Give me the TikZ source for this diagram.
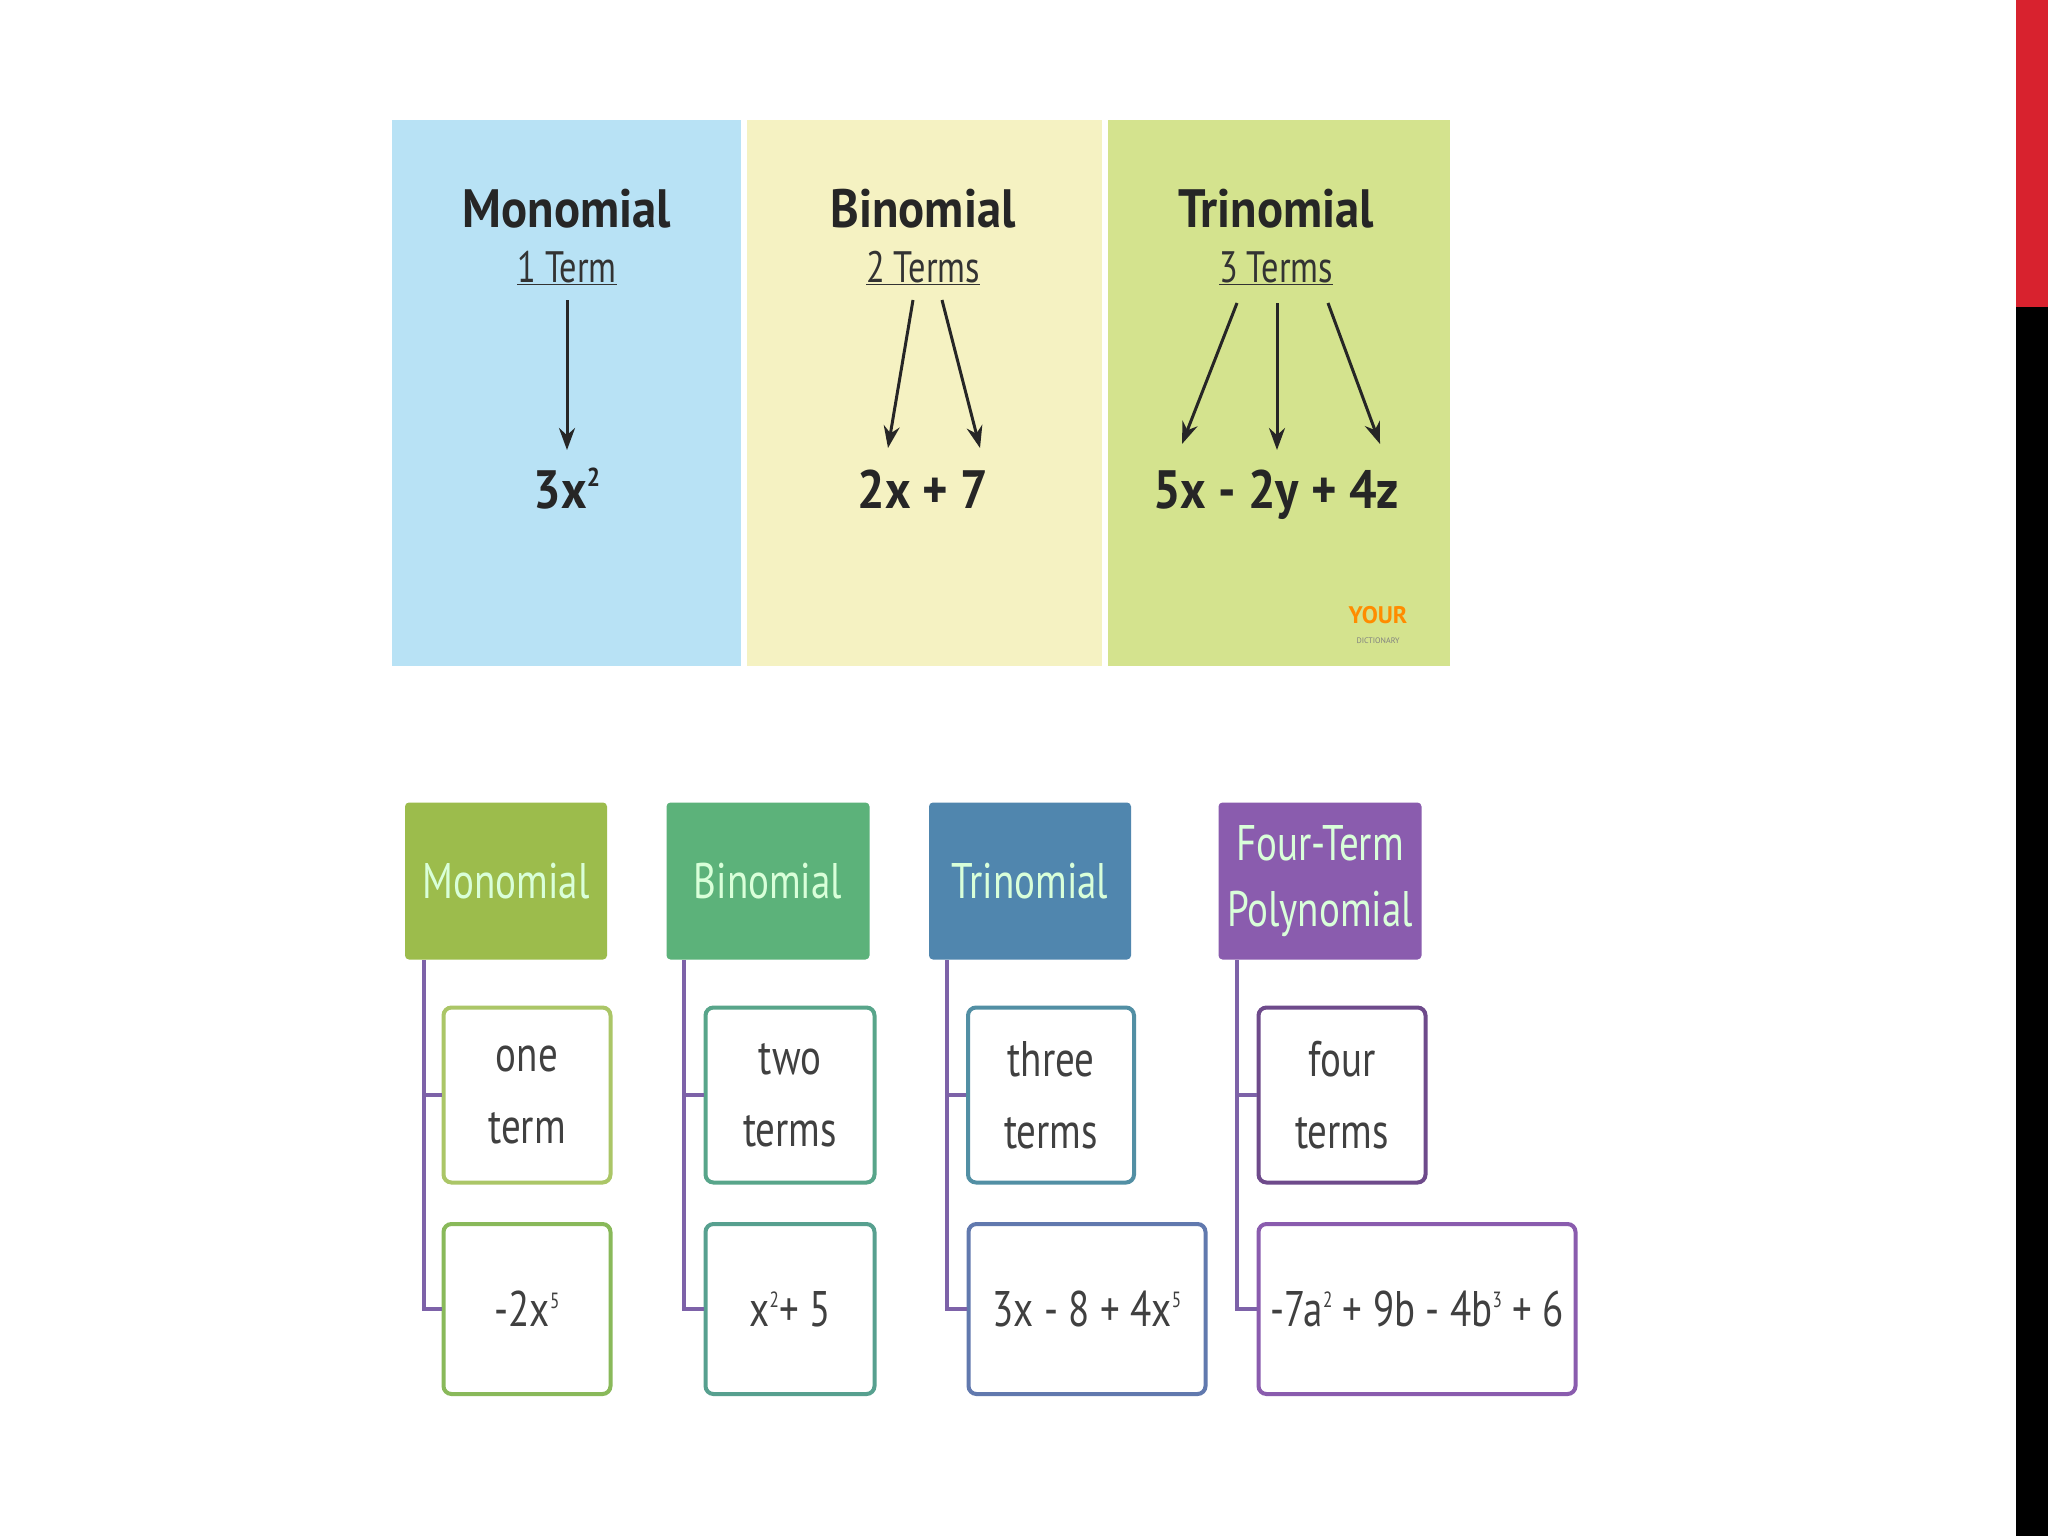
\documentclass[tikz,border=0pt]{standalone}
\usepackage{fontspec}
\setmainfont{PT Sans}
\newfontfamily\cond[FakeStretch=0.78]{PT Sans}
\newfontfamily\condb[FakeStretch=0.9]{PT Sans Bold}
\usetikzlibrary{arrows.meta}
\newcommand{\sps}[1]{\raisebox{0.75ex}{\fontsize{22}{22}\selectfont #1}}
\begin{document}
\begin{tikzpicture}[x=1pt,y=-1pt,
  ttl/.style={font=\condb\fontsize{54}{58}\selectfont, text=black!85},
  sub/.style={font=\cond\fontsize{44}{48}\selectfont, text=black!80},
  frm/.style={font=\condb\fontsize{54}{58}\selectfont, text=black!85, anchor=base},
  arr/.style={-{Stealth[length=22pt,width=16pt]}, line width=3pt, black!85},
  hdr/.style={rounded corners=4pt, text=white!85!green, font=\cond\fontsize{50}{66}\selectfont, align=center, inner sep=0pt},
  kid/.style={draw, line width=4pt, rounded corners=8pt, fill=white, text=black!75, font=\cond\fontsize{50}{72}\selectfont, align=center, inner sep=0pt},
  conn/.style={draw=lpur, line width=4pt}]
\definecolor{pblue}{HTML}{B8E2F5}
\definecolor{pyel}{HTML}{F5F2C2}
\definecolor{pgrn}{HTML}{D4E38E}
\definecolor{hmono}{HTML}{9CBC4C}
\definecolor{hbi}{HTML}{5CB27A}
\definecolor{htri}{HTML}{5086AE}
\definecolor{hfour}{HTML}{8A5CAE}
\definecolor{lpur}{HTML}{7D62A8}
\definecolor{redbar}{HTML}{D8222E}
\useasboundingbox (0,0) rectangle (2048,1536);
\fill[white] (0,0) rectangle (2048,1536);
\fill[redbar] (2016,0) rectangle (2048,307);
\fill[black] (2016,307) rectangle (2048,1536);
% top panel
\fill[pblue] (392,120) rectangle (741,666);
\fill[pyel] (747,120) rectangle (1102,666);
\fill[pgrn] (1108,120) rectangle (1450,666);
\node[ttl] (t1) at (567,209) {Monomial};
\node[ttl] (t2) at (923,209) {Binomial};
\node[ttl] (t3) at (1276,209) {Trinomial};
\node[sub] (s1) at (567,268) {\underline{1 Term}};
\node[sub] (s2) at (923,268) {\underline{2 Terms}};
\node[sub] (s3) at (1276,268) {\underline{3 Terms}};
\node[frm] (f1) at (567,508) {3x\raisebox{0.8ex}{\fontsize{26}{26}\selectfont 2}};
\node[frm] (f2) at (923,508) {2x + 7};
\node[frm] (f3) at (1276,508) {5x - 2y + 4z};
\coordinate (a1s) at (567,300); \coordinate (a1e) at (567,450);
\coordinate (b1s) at (913,300); \coordinate (b1e) at (888,448);
\coordinate (b2s) at (942,300); \coordinate (b2e) at (980,448);
\coordinate (c1s) at (1237,303); \coordinate (c1e) at (1182,444);
\coordinate (c2s) at (1277,303); \coordinate (c2e) at (1277,450);
\coordinate (c3s) at (1328,303); \coordinate (c3e) at (1380,444);
\foreach \p in {a1,b1,b2,c1,c2,c3} \draw[arr] (\p s) -- (\p e);
\node[font=\fontsize{24}{24}\selectfont\bfseries, text=orange!90!yellow] (logo) at (1378,615) {YOUR};
\node[font=\fontsize{8}{8}\selectfont, text=gray] (logo2) at (1378,641) {DICTIONARY};
% bottom
\node[hdr, fill=hmono, minimum width=202pt, minimum height=157pt] (h1) at (506,881) {Monomial};
\node[hdr, fill=hbi, minimum width=203pt, minimum height=157pt] (h2) at (768,881) {Binomial};
\node[hdr, fill=htri, minimum width=202pt, minimum height=157pt] (h3) at (1030,881) {Trinomial};
\node[hdr, fill=hfour, minimum width=203pt, minimum height=157pt] (h4) at (1320,881) {Four-Term\\Polynomial};
\node[kid, draw=hmono!85!white, minimum width=167pt, minimum height=175pt] (k11) at (527,1095) {one\\term};
\node[kid, draw=hmono!70!hbi, minimum width=167pt, minimum height=170pt] (k12) at (527,1309) {-2x\sps{5}};
\node[kid, draw=hbi!70!htri, minimum width=169pt, minimum height=175pt] (k21) at (790,1095) {two\\terms};
\node[kid, draw=hbi!60!htri, minimum width=169pt, minimum height=170pt] (k22) at (790,1309) {x\sps{2}+ 5};
\node[kid, draw=htri!80!hbi, minimum width=166pt, minimum height=175pt] (k31) at (1051,1095) {three\\terms};
\node[kid, draw=htri!70!hfour, minimum width=237pt, minimum height=170pt] (k32) at (1087,1309) {3x - 8 + 4x\sps{5}};
\node[kid, draw=hfour!80!black, minimum width=167pt, minimum height=175pt] (k41) at (1342,1095) {four\\terms};
\node[kid, draw=hfour, minimum width=317pt, minimum height=170pt] (k42) at (1417,1309) {-7a\sps{2} + 9b - 4b\sps{3} + 6};
\foreach \i/\x in {1/424,2/684,3/947,4/1237}{
  \draw[conn] (\x,960) |- (k\i2.west);
  \draw[conn] (\x,1095) -- (k\i1.west);
}
\end{tikzpicture}
\end{document}
